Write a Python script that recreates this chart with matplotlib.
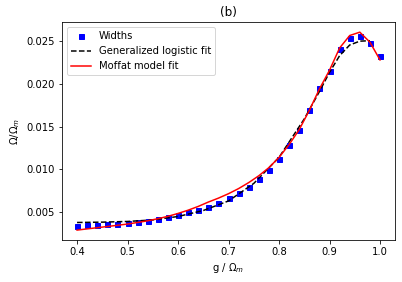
import numpy as np
import matplotlib
matplotlib.use('Agg')
import matplotlib.pyplot as plt

# measured widths
g = np.round(np.arange(0.40, 1.001, 0.02), 2)
widths = [0.00340, 0.00352, 0.00352, 0.00359, 0.00355, 0.00375, 0.00383, 0.00398,
          0.00422, 0.00441, 0.00469, 0.00500, 0.00520, 0.00563, 0.00605, 0.00660,
          0.00727, 0.00797, 0.00887, 0.00996, 0.01125, 0.01285, 0.01461, 0.01699,
          0.01953, 0.02156, 0.02410, 0.02539, 0.02555, 0.02484, 0.02328]

# generalized logistic fit
g_log = [0.40, 0.45, 0.50, 0.55, 0.60, 0.65, 0.70, 0.75, 0.80, 0.85, 0.88,
         0.90, 0.92, 0.94, 0.96, 0.98]
logistic = [0.00378, 0.00382, 0.00390, 0.00408, 0.00448, 0.00518, 0.00630,
            0.00835, 0.01140, 0.01590, 0.01910, 0.02135, 0.02330, 0.02455,
            0.02500, 0.02505]

# Moffat model fit (evaluated at data points)
moffat = [0.00289, 0.00303, 0.00317, 0.00331, 0.00345, 0.00360, 0.00378, 0.00398,
          0.00422, 0.00450, 0.00484, 0.00522, 0.00566, 0.00617, 0.00663, 0.00715,
          0.00775, 0.00845, 0.00925, 0.01020, 0.01140, 0.01290, 0.01465, 0.01690,
          0.01940, 0.02160, 0.02420, 0.02566, 0.02605, 0.02488, 0.02280]

fig = plt.figure(figsize=(402/72, 282/72), dpi=72)
ax = fig.add_axes([0.154, 0.149, 0.829, 0.772])

ax.plot(g, widths, 'bs', markersize=5, label='Widths')
ax.plot(g_log, logistic, 'k--', label='Generalized logistic fit')
ax.plot(g, moffat, 'r-', label='Moffat model fit')

ax.set_xlabel(r'g / $\Omega_m$')
ax.set_ylabel(r'$\Omega/\Omega_m$')
ax.set_title('(b)')
ax.legend(loc='upper left')

plt.savefig('out.png', dpi=72)
